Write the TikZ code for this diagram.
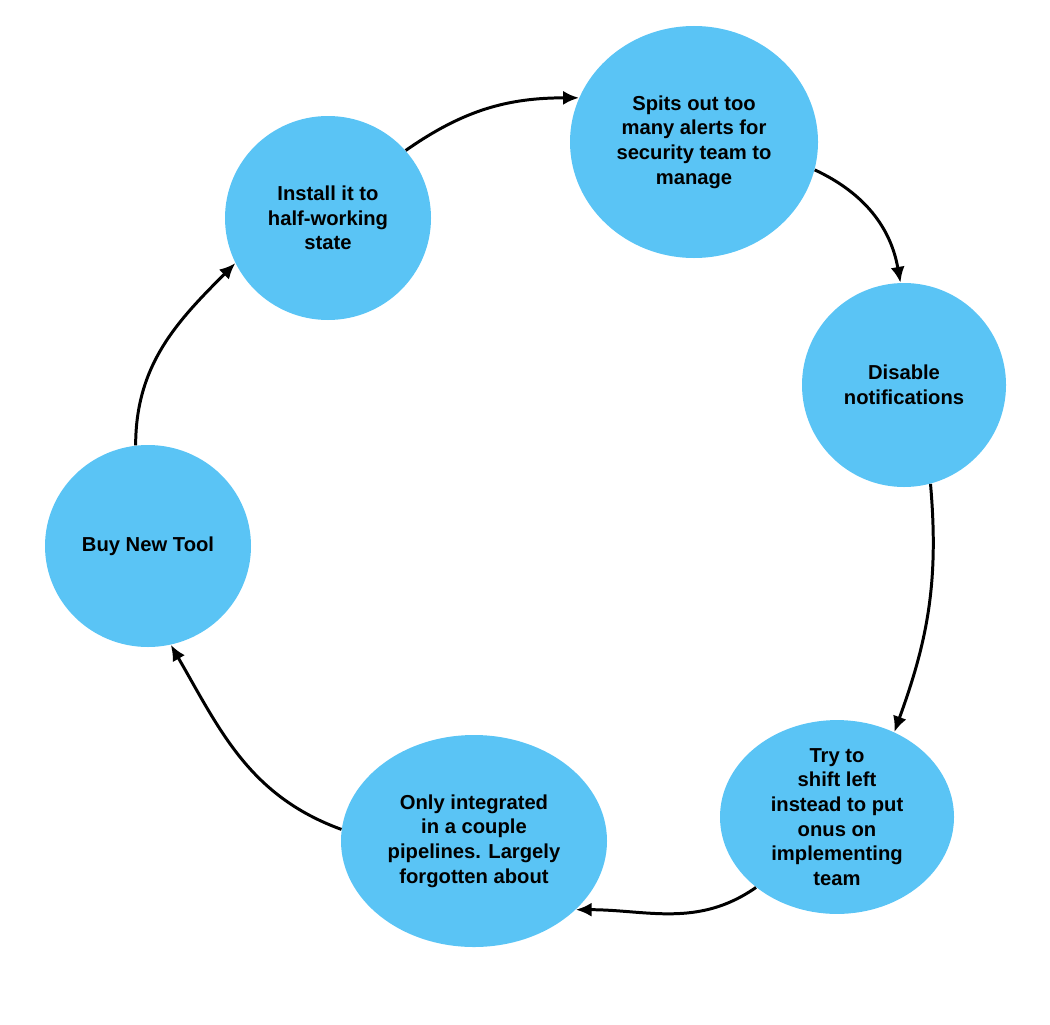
\documentclass[tikz,border=0pt]{standalone}
\usepackage{fontspec}
\setmainfont{Liberation Sans}
\usetikzlibrary{shapes.geometric, arrows.meta}
\definecolor{bubble}{HTML}{5AC4F5}
\begin{document}
\begin{tikzpicture}[x=0.02cm, y=-0.02cm,
    stage/.style={ellipse, fill=bubble, inner sep=0pt, align=center,
      font=\bfseries\fontsize{11.5}{14}\selectfont},
    flow/.style={line width=1.7pt, -{Latex[length=9pt, width=8pt]}}]
  \useasboundingbox (0,0) rectangle (1050,1024);
  \node[stage, minimum width=206*0.02cm, minimum height=204*0.02cm] (install) at (328,218) {Install it to\\half-working\\state};
  \node[stage, minimum width=248*0.02cm, minimum height=232*0.02cm] (spits) at (694,142) {Spits out too\\many alerts for\\security team to\\manage};
  \node[stage, minimum width=204*0.02cm, minimum height=204*0.02cm] (disable) at (904,385) {Disable\\notifications};
  \node[stage, minimum width=234*0.02cm, minimum height=192*0.02cm] (try) at (837,817) {Try to\\shift left\\instead to put\\onus on\\implementing\\team};
  \node[stage, minimum width=266*0.02cm, minimum height=212*0.02cm] (only) at (474,841) {Only integrated\\in a couple\\pipelines. Largely\\forgotten about};
  \node[stage, minimum width=206*0.02cm, minimum height=202*0.02cm] (buy) at (148,546) {Buy New Tool};

  \draw[flow] (install.41) to[out=35, in=180] (spits.159);
  \draw[flow] (spits.-13) to[out=-25, in=100] (disable.92);
  \draw[flow] (disable.-75) to[out=-85, in=70] (try.56);
  \draw[flow] (try.-139) to[out=-145, in=0] (only.-34);
  \draw[flow] (only.175) to[out=160, in=-60] (buy.-77);
  \draw[flow] (buy.97) to[out=90, in=-135] (install.-154);
\end{tikzpicture}
\end{document}
